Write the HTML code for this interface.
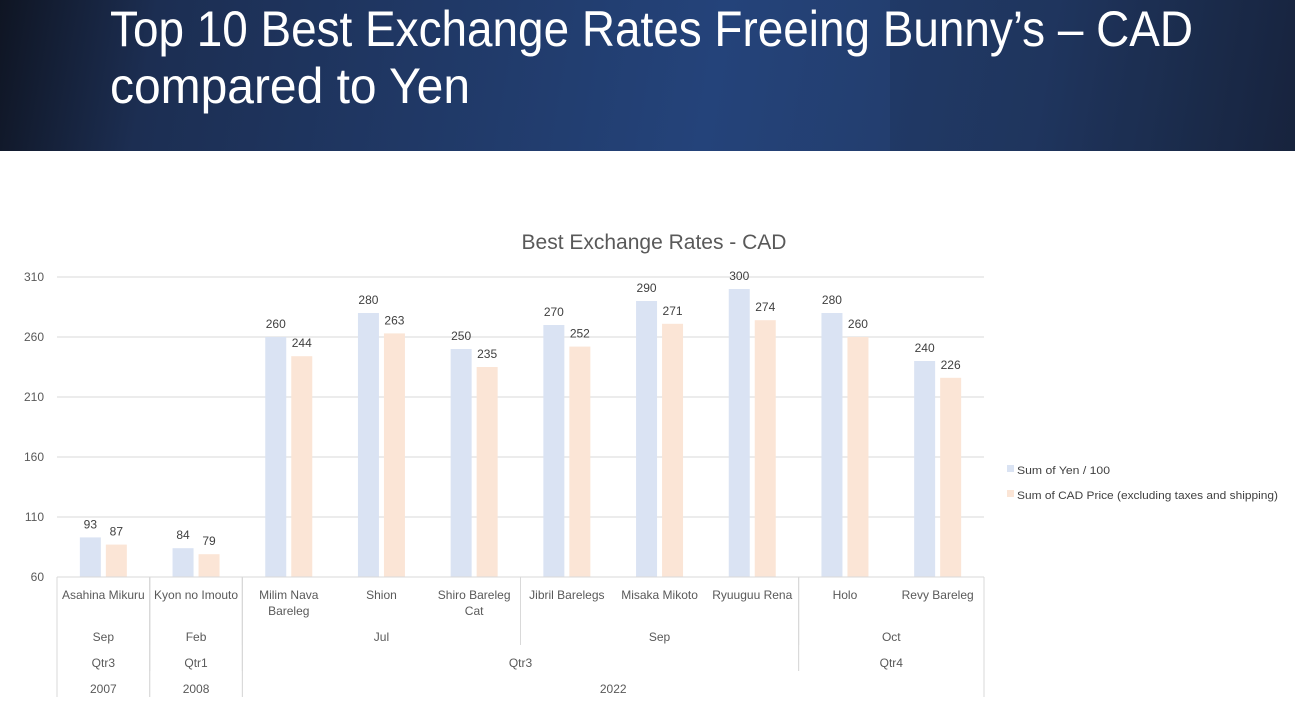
<!DOCTYPE html>
<html><head><meta charset="utf-8"><style>
html,body{margin:0;padding:0;width:1295px;height:723px;overflow:hidden;background:#fff;font-family:"Liberation Sans",sans-serif}
#hdr{position:absolute;left:0;top:0;width:1295px;height:151px;background:linear-gradient(100deg,#0f1523 0%,#1c2e52 12%,#24437a 55%,#223a66 80%,#1a2743 100%)}
</style></head><body>
<div id="hdr">
<svg width="1295" height="151" style="position:absolute;left:0;top:0">
<rect x="890" y="0" width="405" height="151" fill="#000" opacity="0.08"/>
<text x="110" y="46" font-size="50" fill="#fff" textLength="1083" lengthAdjust="spacingAndGlyphs" font-family="Liberation Sans">Top 10 Best Exchange Rates Freeing Bunny’s – CAD</text>
<text x="110" y="103" font-size="50" fill="#fff" textLength="360" lengthAdjust="spacingAndGlyphs" font-family="Liberation Sans">compared to Yen</text>
</svg></div>
<svg id="chart" width="1295" height="723" style="position:absolute;left:0;top:0">
<text x="654" y="249" font-size="21" fill="#595959" text-anchor="middle">Best Exchange Rates - CAD</text>
<g id="grid"></g><g id="bars"></g><g id="xaxis"></g>
<g>
<rect x="1007" y="465" width="7" height="7" fill="#dae3f3"/>
<text x="1017" y="474" font-size="11" fill="#404040" textLength="93" lengthAdjust="spacingAndGlyphs">Sum of Yen / 100</text>
<rect x="1007" y="490" width="7" height="7" fill="#fbe5d6"/>
<text x="1017" y="499" font-size="11" fill="#404040" textLength="261" lengthAdjust="spacingAndGlyphs">Sum of CAD Price (excluding taxes and shipping)</text>
</g>
</svg>
<script>
const categories=["Asahina Mikuru","Kyon no Imouto","Milim Nava|Bareleg","Shion","Shiro Bareleg|Cat","Jibril Barelegs","Misaka Mikoto","Ryuuguu Rena","Holo","Revy Bareleg"];
const yenValues=[93,84,260,280,250,270,290,300,280,240];
const cadValues=[87,79,244,263,235,252,271,274,260,226];
const yTicks=[60,110,160,210,260,310];
const months=[["Sep",0,1],["Feb",1,2],["Jul",2,5],["Sep",5,8],["Oct",8,10]];
const quarters=[["Qtr3",0,1],["Qtr1",1,2],["Qtr3",2,8],["Qtr4",8,10]];
const years=[["2007",0,1],["2008",1,2],["2022",2,10]];
const NS="http://www.w3.org/2000/svg";
const L=57,R=984,T=277,B=577,ymin=60,ymax=310;
const y=v=>B-(v-ymin)/(ymax-ymin)*(B-T);
const cw=(R-L)/categories.length;
const cx=i=>L+cw*i;
function mk(tag,attrs,parent,txt){const e=document.createElementNS(NS,tag);for(const k in attrs)e.setAttribute(k,attrs[k]);if(txt!=null)e.textContent=txt;document.getElementById(parent).appendChild(e);return e;}
yTicks.forEach(t=>{
 const l=mk('line',{x1:L,x2:R,y1:y(t),y2:y(t),stroke:'#d9d9d9','stroke-width':1},'grid');
 
 
 const tx=mk('text',{x:44,y:y(t)+4,'font-size':12,fill:'#595959','text-anchor':'end'},'grid',t);
 
 
});
categories.forEach((c,i)=>{
 const m=cx(i)+cw/2;
 const b1=mk('rect',{x:m-23.5,y:y(yenValues[i]),width:21,height:B-y(yenValues[i]),fill:'#dae3f3'},'bars');
 
 
 const b2=mk('rect',{x:m+2.5,y:y(cadValues[i]),width:21,height:B-y(cadValues[i]),fill:'#fbe5d6'},'bars');
 
 
 const l1=mk('text',{x:m-13,y:y(yenValues[i])-9,'font-size':12,fill:'#404040','text-anchor':'middle'},'bars',yenValues[i]);
 
 
 const l2=mk('text',{x:m+13,y:y(cadValues[i])-9,'font-size':12,fill:'#404040','text-anchor':'middle'},'bars',cadValues[i]);
 
 
 c.split('|').forEach((p,k)=>{
  const t=mk('text',{x:m,y:599+k*16,'font-size':12,fill:'#595959','text-anchor':'middle'},'xaxis',p);
  
  
 });
});
const ax=mk('line',{x1:L,x2:R,y1:B,y2:B,stroke:'#d9d9d9'},'xaxis');


function level(arr,ty,bottom,name){
 arr.forEach(([lab,s,e])=>{
  const t=mk('text',{x:(cx(s)+cx(e))/2,y:ty,'font-size':12,fill:'#595959','text-anchor':'middle'},'xaxis',lab);
  
  
  [s,e].forEach(j=>{
   const ln=mk('line',{x1:cx(j),x2:cx(j),y1:B,y2:bottom,stroke:'#d9d9d9'},'xaxis');
   
   
  });
 });
}
level(months,641,645,'month');
level(quarters,667,671,'quarter');
level(years,693,697,'year');
</script>
</body></html>
